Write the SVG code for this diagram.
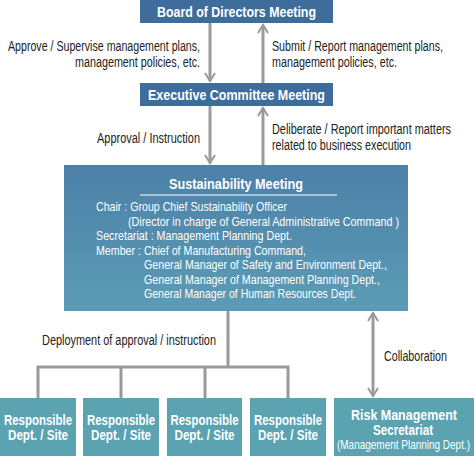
<svg xmlns="http://www.w3.org/2000/svg" width="474" height="474" viewBox="0 0 474 474">
<defs>
<linearGradient id="sg" x1="0" y1="0" x2="0" y2="1">
<stop offset="0" stop-color="#4c80a7"/>
<stop offset="1" stop-color="#5c9cb6"/>
</linearGradient>
<marker id="ah" viewBox="0 0 12 12" refX="10" refY="6" markerWidth="12" markerHeight="12" markerUnits="userSpaceOnUse" orient="auto-start-reverse">
<path d="M2,1 L10,6 L2,11" fill="none" stroke="#9a9a9a" stroke-width="2"/>
</marker>
<style>
text{font-family:"Liberation Sans",Arial,sans-serif;}
.lbl{font-size:14px;fill:#222;}
.ttl{font-size:15px;font-weight:bold;fill:#fff;}
.bt{font-size:14.5px;font-weight:bold;fill:#fff;}
.body{font-size:13.5px;fill:#fff;}
.top{fill:#3e6d9c;}
.dept{fill:#5ba3b1;}
.con{stroke:#9a9a9a;stroke-width:3;fill:none;}
</style>
</defs>
<g id="connectors">
<line class="con" x1="210" y1="23" x2="210" y2="81" marker-end="url(#ah)"/>
<line class="con" x1="263" y1="83" x2="263" y2="25" marker-end="url(#ah)"/>
<line class="con" x1="210" y1="106" x2="210" y2="163" marker-end="url(#ah)"/>
<line class="con" x1="263" y1="165" x2="263" y2="108" marker-end="url(#ah)"/>
<path class="con" d="M228,311 V367 M38,398 V367 H288 V398 M121,367 V398 M205,367 V398"/>
<line class="con" x1="373" y1="313" x2="373" y2="396" marker-start="url(#ah)" marker-end="url(#ah)"/>
<text class="lbl" x="8" y="51" textLength="192" lengthAdjust="spacingAndGlyphs">Approve / Supervise management plans,</text>
<text class="lbl" x="75" y="67" textLength="125" lengthAdjust="spacingAndGlyphs">management policies, etc.</text>
<text class="lbl" x="272" y="51" textLength="171" lengthAdjust="spacingAndGlyphs">Submit / Report management plans,</text>
<text class="lbl" x="272" y="67" textLength="125" lengthAdjust="spacingAndGlyphs">management policies, etc.</text>
<text class="lbl" x="97" y="143" textLength="103" lengthAdjust="spacingAndGlyphs">Approval / Instruction</text>
<text class="lbl" x="272" y="134" textLength="179" lengthAdjust="spacingAndGlyphs">Deliberate / Report important matters</text>
<text class="lbl" x="272" y="150" textLength="139" lengthAdjust="spacingAndGlyphs">related to business execution</text>
<text class="lbl" x="42" y="345" textLength="174" lengthAdjust="spacingAndGlyphs">Deployment of approval / instruction</text>
<text class="lbl" x="384" y="361" textLength="63" lengthAdjust="spacingAndGlyphs">Collaboration</text>
</g>
<g id="board">
<rect class="top" x="140" y="0" width="193" height="23"/>
<text class="ttl" x="157" y="17" textLength="159" lengthAdjust="spacingAndGlyphs">Board of Directors Meeting</text>
</g>
<g id="executive">
<rect class="top" x="140" y="83" width="193" height="23"/>
<text class="ttl" x="148" y="100" textLength="177" lengthAdjust="spacingAndGlyphs">Executive Committee Meeting</text>
</g>
<g id="sustainability">
<rect x="64" y="165" width="344" height="146" fill="url(#sg)"/>
<text class="ttl" x="169" y="189" textLength="134" lengthAdjust="spacingAndGlyphs">Sustainability Meeting</text>
<line x1="140" y1="195" x2="337" y2="195" stroke="#fff" stroke-width="1"/>
<text class="body" x="96" y="211" textLength="191" lengthAdjust="spacingAndGlyphs">Chair : Group Chief Sustainability Officer</text>
<text class="body" x="128" y="225.5" textLength="271" lengthAdjust="spacingAndGlyphs">(Director in charge of General Administrative Command )</text>
<text class="body" x="96" y="240" textLength="196" lengthAdjust="spacingAndGlyphs">Secretariat : Management Planning Dept.</text>
<text class="body" x="96" y="254.5" textLength="210" lengthAdjust="spacingAndGlyphs">Member : Chief of Manufacturing Command,</text>
<text class="body" x="144" y="269" textLength="243" lengthAdjust="spacingAndGlyphs">General Manager of Safety and Environment Dept.,</text>
<text class="body" x="144" y="283.5" textLength="236" lengthAdjust="spacingAndGlyphs">General Manager of Management Planning Dept.,</text>
<text class="body" x="144" y="298" textLength="212" lengthAdjust="spacingAndGlyphs">General Manager of Human Resources Dept.</text>
</g>
<g id="dept1">
<rect class="dept" x="0" y="398" width="76" height="58"/>
<text class="bt" x="4" y="424.5" textLength="68" lengthAdjust="spacingAndGlyphs">Responsible</text>
<text class="bt" x="8" y="440" textLength="60" lengthAdjust="spacingAndGlyphs">Dept. / Site</text>
</g>
<g id="dept2">
<rect class="dept" x="83" y="398" width="76" height="58"/>
<text class="bt" x="87" y="424.5" textLength="68" lengthAdjust="spacingAndGlyphs">Responsible</text>
<text class="bt" x="91" y="440" textLength="60" lengthAdjust="spacingAndGlyphs">Dept. / Site</text>
</g>
<g id="dept3">
<rect class="dept" x="167" y="398" width="75" height="58"/>
<text class="bt" x="170.5" y="424.5" textLength="68" lengthAdjust="spacingAndGlyphs">Responsible</text>
<text class="bt" x="174.5" y="440" textLength="60" lengthAdjust="spacingAndGlyphs">Dept. / Site</text>
</g>
<g id="dept4">
<rect class="dept" x="250" y="398" width="76" height="58"/>
<text class="bt" x="254" y="424.5" textLength="68" lengthAdjust="spacingAndGlyphs">Responsible</text>
<text class="bt" x="258" y="440" textLength="60" lengthAdjust="spacingAndGlyphs">Dept. / Site</text>
</g>
<g id="risk">
<rect class="dept" x="334" y="398" width="140" height="58"/>
<text class="bt" x="351" y="419.5" textLength="106" lengthAdjust="spacingAndGlyphs">Risk Management</text>
<text class="bt" x="373" y="434.5" textLength="60" lengthAdjust="spacingAndGlyphs">Secretariat</text>
<text class="body" x="337" y="449" textLength="133" lengthAdjust="spacingAndGlyphs" style="font-size:13.5px">(Management Planning Dept.)</text>
</g>
</svg>
